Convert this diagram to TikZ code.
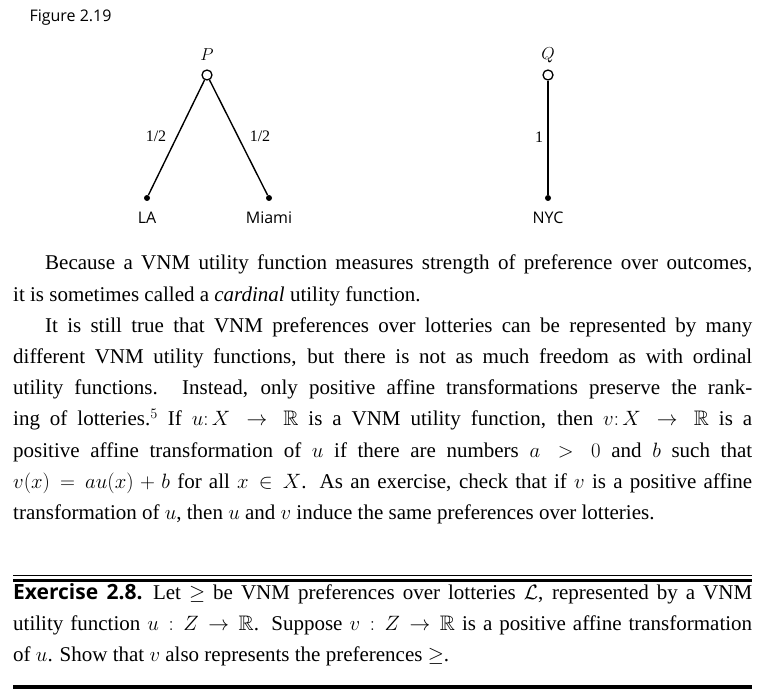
\documentclass[tikz,border=0pt]{standalone}
\usepackage{amssymb}
\usepackage{fontspec}
\setmainfont{Liberation Serif}
\newfontfamily\figsans{Open Sans}
\tikzset{
 lab/.style={font=\figsans\fontsize{16}{19}\selectfont},
 prob/.style={font=\fontsize{16}{19}\selectfont},
 chance/.style={circle,draw,line width=1.3pt,minimum size=10pt,inner sep=0pt},
 leaf/.style={circle,fill,minimum size=6pt,inner sep=0pt},
 edge/.style={line width=1.4pt},
 body/.style={anchor=north west,inner sep=0pt,text width=739pt,align=justify,font=\fontsize{21}{31.2}\selectfont}
}
\begin{document}
\begin{tikzpicture}[x=1pt,y=-1pt]
\useasboundingbox (0,0) rectangle (769,698);
\node[lab,anchor=west] (fig) at (26,18) {Figure 2.19};
\node[chance] (P) at (207,75) {};
\node[font=\fontsize{18}{20}\selectfont] (Pl) at (207,55) {$P$};
\node[leaf] (LA) at (147,198) {};
\node[leaf] (MI) at (269,198) {};
\draw[edge] (P) -- (LA);
\draw[edge] (P) -- (MI);
\node[prob] (h1) at (156,136) {1/2};
\node[prob] (h2) at (260,136) {1/2};
\node[lab] (LAl) at (147,218) {LA};
\node[lab] (MIl) at (269,218) {Miami};
\node[chance] (Q) at (548,75) {};
\node[font=\fontsize{18}{20}\selectfont] (Ql) at (548,55) {$Q$};
\node[leaf] (NY) at (548,198) {};
\draw[edge] (Q) -- (NY);
\node[prob] (one) at (539,137) {1};
\node[lab] (NYl) at (548,218) {NYC};
\node[body] (txt) at (13,255) {\parindent=32pt\indent Because a VNM utility function measures strength of preference over outcomes,\linebreak it is sometimes called a \textit{cardinal} utility function.\par
It is still true that VNM preferences over lotteries can be represented by many\linebreak different VNM utility functions, but there is not as much freedom as with ordinal\linebreak utility functions. Instead, only positive affine transformations preserve the rank-\linebreak ing of lotteries.$^5$ If $u\colon X\to\mathbb{R}$ is a VNM utility function, then $v\colon X\to\mathbb{R}$ is a\linebreak positive affine transformation of $u$ if there are numbers $a>0$ and $b$ such that\linebreak $v(x)=au(x)+b$ for all $x\in X$. As an exercise, check that if $v$ is a positive affine\linebreak transformation of $u$, then $u$ and $v$ induce the same preferences over lotteries.\par};
\coordinate (l1) at (13,575); \coordinate (r1) at (752,575);
\coordinate (l2) at (13,580); \coordinate (r2) at (752,580);
\coordinate (l3) at (13,687); \coordinate (r3) at (752,687);
\draw[line width=1pt] (l1) -- (r1);
\draw[line width=3pt] (l2) -- (r2);
\draw[line width=3.5pt] (l3) -- (r3);
\node[body] (ex) at (13,583) {\noindent{\figsans\bfseries Exercise 2.8.}\enspace Let $\geq$ be VNM preferences over lotteries $\mathcal{L}$, represented by a VNM\linebreak utility function $u:Z\to\mathbb{R}$. Suppose $v:Z\to\mathbb{R}$ is a positive affine transformation\linebreak of $u$. Show that $v$ also represents the preferences $\geq$.\par};
\end{tikzpicture}
\end{document}
